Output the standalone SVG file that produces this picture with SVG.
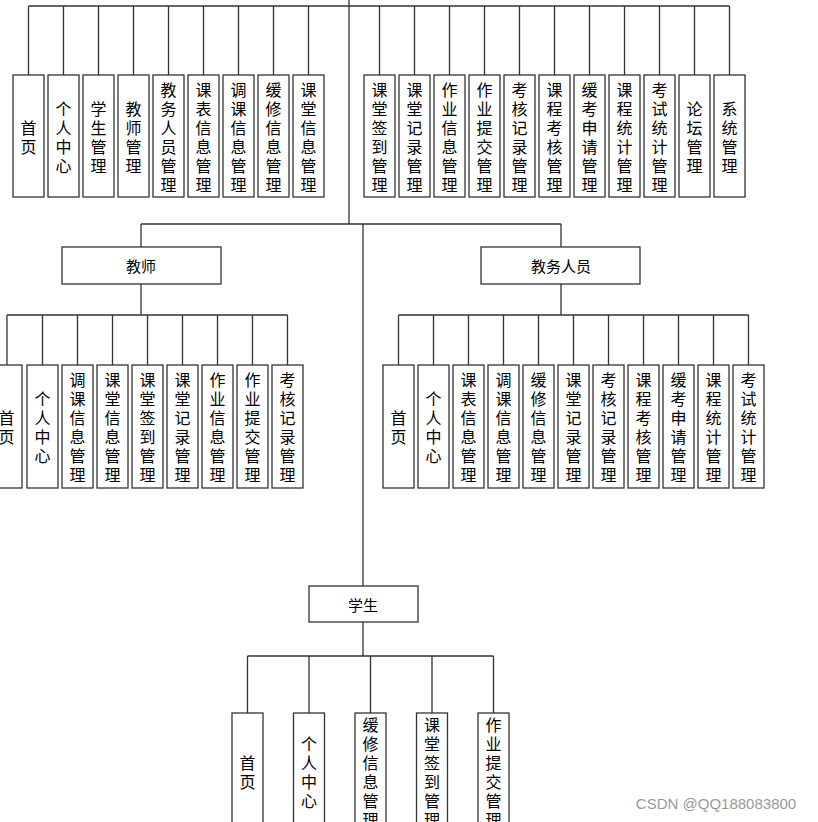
<svg xmlns="http://www.w3.org/2000/svg" width="818" height="822" viewBox="0 0 818 822">
<style>
.b{fill:#fff;stroke:#333;stroke-width:1.3}
.l{fill:none;stroke:#333;stroke-width:1.3}
text{font-family:"Noto Sans CJK SC","Liberation Sans",sans-serif;font-size:16px;fill:#000;text-anchor:middle;dominant-baseline:central}
.r{font-size:15px}
</style>
<rect width="818" height="822" fill="#fff"/>
<g id="connectors">
<path class="l" d="M349 0V224M28.5 6H729.5M28.5 6V75M63.5 6V75M98.5 6V75M133.5 6V75M168.5 6V75M203.5 6V75M238.5 6V75M273.5 6V75M308.5 6V75M379.5 6V75M414.5 6V75M449.5 6V75M484.5 6V75M519.5 6V75M554.5 6V75M589.5 6V75M624.5 6V75M659.5 6V75M694.5 6V75M729.5 6V75"/>
<path class="l" d="M141 224H561M141 224V247M561 224V247M363 224V586"/>
<path class="l" d="M141 284V315M7 315H287.5M7 315V365M42.5 315V365M77.5 315V365M112.5 315V365M147.5 315V365M182.5 315V365M217.5 315V365M252.5 315V365M287.5 315V365"/>
<path class="l" d="M561 284V315M398.5 315H748.5M398.5 315V365M433.5 315V365M468.5 315V365M503.5 315V365M538.5 315V365M573.5 315V365M608.5 315V365M643.5 315V365M678.5 315V365M713.5 315V365M748.5 315V365"/>
<path class="l" d="M363 622V656M247.5 656H493.5M247.5 656V713M309 656V713M370.5 656V713M432 656V713M493.5 656V713"/>
</g>
<g id="roles">
<g id="teacher"><rect class="b" x="62" y="247" width="159" height="37"/><text class="r" x="141" y="265.5">教师</text></g>
<g id="staff"><rect class="b" x="481" y="247" width="159" height="37"/><text class="r" x="561" y="265.5">教务人员</text></g>
<g id="student"><rect class="b" x="309" y="586" width="109" height="36"/><text class="r" x="363" y="604">学生</text></g>
</g>
<g id="top">
<g id="t1"><rect class="b" x="13" y="75" width="31" height="122"/><text x="28.5" y="126.5"><tspan x="28.5">首</tspan><tspan x="28.5" dy="19">页</tspan></text></g>
<g id="t2"><rect class="b" x="48" y="75" width="31" height="122"/><text x="63.5" y="107.5"><tspan x="63.5">个</tspan><tspan x="63.5" dy="19">人</tspan><tspan x="63.5" dy="19">中</tspan><tspan x="63.5" dy="19">心</tspan></text></g>
<g id="t3"><rect class="b" x="83" y="75" width="31" height="122"/><text x="98.5" y="107.5"><tspan x="98.5">学</tspan><tspan x="98.5" dy="19">生</tspan><tspan x="98.5" dy="19">管</tspan><tspan x="98.5" dy="19">理</tspan></text></g>
<g id="t4"><rect class="b" x="118" y="75" width="31" height="122"/><text x="133.5" y="107.5"><tspan x="133.5">教</tspan><tspan x="133.5" dy="19">师</tspan><tspan x="133.5" dy="19">管</tspan><tspan x="133.5" dy="19">理</tspan></text></g>
<g id="t5"><rect class="b" x="153" y="75" width="31" height="122"/><text x="168.5" y="88.5"><tspan x="168.5">教</tspan><tspan x="168.5" dy="19">务</tspan><tspan x="168.5" dy="19">人</tspan><tspan x="168.5" dy="19">员</tspan><tspan x="168.5" dy="19">管</tspan><tspan x="168.5" dy="19">理</tspan></text></g>
<g id="t6"><rect class="b" x="188" y="75" width="31" height="122"/><text x="203.5" y="88.5"><tspan x="203.5">课</tspan><tspan x="203.5" dy="19">表</tspan><tspan x="203.5" dy="19">信</tspan><tspan x="203.5" dy="19">息</tspan><tspan x="203.5" dy="19">管</tspan><tspan x="203.5" dy="19">理</tspan></text></g>
<g id="t7"><rect class="b" x="223" y="75" width="31" height="122"/><text x="238.5" y="88.5"><tspan x="238.5">调</tspan><tspan x="238.5" dy="19">课</tspan><tspan x="238.5" dy="19">信</tspan><tspan x="238.5" dy="19">息</tspan><tspan x="238.5" dy="19">管</tspan><tspan x="238.5" dy="19">理</tspan></text></g>
<g id="t8"><rect class="b" x="258" y="75" width="31" height="122"/><text x="273.5" y="88.5"><tspan x="273.5">缓</tspan><tspan x="273.5" dy="19">修</tspan><tspan x="273.5" dy="19">信</tspan><tspan x="273.5" dy="19">息</tspan><tspan x="273.5" dy="19">管</tspan><tspan x="273.5" dy="19">理</tspan></text></g>
<g id="t9"><rect class="b" x="293" y="75" width="31" height="122"/><text x="308.5" y="88.5"><tspan x="308.5">课</tspan><tspan x="308.5" dy="19">堂</tspan><tspan x="308.5" dy="19">信</tspan><tspan x="308.5" dy="19">息</tspan><tspan x="308.5" dy="19">管</tspan><tspan x="308.5" dy="19">理</tspan></text></g>
<g id="t10"><rect class="b" x="364" y="75" width="31" height="122"/><text x="379.5" y="88.5"><tspan x="379.5">课</tspan><tspan x="379.5" dy="19">堂</tspan><tspan x="379.5" dy="19">签</tspan><tspan x="379.5" dy="19">到</tspan><tspan x="379.5" dy="19">管</tspan><tspan x="379.5" dy="19">理</tspan></text></g>
<g id="t11"><rect class="b" x="399" y="75" width="31" height="122"/><text x="414.5" y="88.5"><tspan x="414.5">课</tspan><tspan x="414.5" dy="19">堂</tspan><tspan x="414.5" dy="19">记</tspan><tspan x="414.5" dy="19">录</tspan><tspan x="414.5" dy="19">管</tspan><tspan x="414.5" dy="19">理</tspan></text></g>
<g id="t12"><rect class="b" x="434" y="75" width="31" height="122"/><text x="449.5" y="88.5"><tspan x="449.5">作</tspan><tspan x="449.5" dy="19">业</tspan><tspan x="449.5" dy="19">信</tspan><tspan x="449.5" dy="19">息</tspan><tspan x="449.5" dy="19">管</tspan><tspan x="449.5" dy="19">理</tspan></text></g>
<g id="t13"><rect class="b" x="469" y="75" width="31" height="122"/><text x="484.5" y="88.5"><tspan x="484.5">作</tspan><tspan x="484.5" dy="19">业</tspan><tspan x="484.5" dy="19">提</tspan><tspan x="484.5" dy="19">交</tspan><tspan x="484.5" dy="19">管</tspan><tspan x="484.5" dy="19">理</tspan></text></g>
<g id="t14"><rect class="b" x="504" y="75" width="31" height="122"/><text x="519.5" y="88.5"><tspan x="519.5">考</tspan><tspan x="519.5" dy="19">核</tspan><tspan x="519.5" dy="19">记</tspan><tspan x="519.5" dy="19">录</tspan><tspan x="519.5" dy="19">管</tspan><tspan x="519.5" dy="19">理</tspan></text></g>
<g id="t15"><rect class="b" x="539" y="75" width="31" height="122"/><text x="554.5" y="88.5"><tspan x="554.5">课</tspan><tspan x="554.5" dy="19">程</tspan><tspan x="554.5" dy="19">考</tspan><tspan x="554.5" dy="19">核</tspan><tspan x="554.5" dy="19">管</tspan><tspan x="554.5" dy="19">理</tspan></text></g>
<g id="t16"><rect class="b" x="574" y="75" width="31" height="122"/><text x="589.5" y="88.5"><tspan x="589.5">缓</tspan><tspan x="589.5" dy="19">考</tspan><tspan x="589.5" dy="19">申</tspan><tspan x="589.5" dy="19">请</tspan><tspan x="589.5" dy="19">管</tspan><tspan x="589.5" dy="19">理</tspan></text></g>
<g id="t17"><rect class="b" x="609" y="75" width="31" height="122"/><text x="624.5" y="88.5"><tspan x="624.5">课</tspan><tspan x="624.5" dy="19">程</tspan><tspan x="624.5" dy="19">统</tspan><tspan x="624.5" dy="19">计</tspan><tspan x="624.5" dy="19">管</tspan><tspan x="624.5" dy="19">理</tspan></text></g>
<g id="t18"><rect class="b" x="644" y="75" width="31" height="122"/><text x="659.5" y="88.5"><tspan x="659.5">考</tspan><tspan x="659.5" dy="19">试</tspan><tspan x="659.5" dy="19">统</tspan><tspan x="659.5" dy="19">计</tspan><tspan x="659.5" dy="19">管</tspan><tspan x="659.5" dy="19">理</tspan></text></g>
<g id="t19"><rect class="b" x="679" y="75" width="31" height="122"/><text x="694.5" y="107.5"><tspan x="694.5">论</tspan><tspan x="694.5" dy="19">坛</tspan><tspan x="694.5" dy="19">管</tspan><tspan x="694.5" dy="19">理</tspan></text></g>
<g id="t20"><rect class="b" x="714" y="75" width="31" height="122"/><text x="729.5" y="107.5"><tspan x="729.5">系</tspan><tspan x="729.5" dy="19">统</tspan><tspan x="729.5" dy="19">管</tspan><tspan x="729.5" dy="19">理</tspan></text></g>
</g>
<g id="teacherItems">
<g id="a1"><rect class="b" x="-9" y="365" width="31" height="123"/><text x="6.5" y="417"><tspan x="6.5">首</tspan><tspan x="6.5" dy="19">页</tspan></text></g>
<g id="a2"><rect class="b" x="27" y="365" width="31" height="123"/><text x="42.5" y="398"><tspan x="42.5">个</tspan><tspan x="42.5" dy="19">人</tspan><tspan x="42.5" dy="19">中</tspan><tspan x="42.5" dy="19">心</tspan></text></g>
<g id="a3"><rect class="b" x="62" y="365" width="31" height="123"/><text x="77.5" y="379"><tspan x="77.5">调</tspan><tspan x="77.5" dy="19">课</tspan><tspan x="77.5" dy="19">信</tspan><tspan x="77.5" dy="19">息</tspan><tspan x="77.5" dy="19">管</tspan><tspan x="77.5" dy="19">理</tspan></text></g>
<g id="a4"><rect class="b" x="97" y="365" width="31" height="123"/><text x="112.5" y="379"><tspan x="112.5">课</tspan><tspan x="112.5" dy="19">堂</tspan><tspan x="112.5" dy="19">信</tspan><tspan x="112.5" dy="19">息</tspan><tspan x="112.5" dy="19">管</tspan><tspan x="112.5" dy="19">理</tspan></text></g>
<g id="a5"><rect class="b" x="132" y="365" width="31" height="123"/><text x="147.5" y="379"><tspan x="147.5">课</tspan><tspan x="147.5" dy="19">堂</tspan><tspan x="147.5" dy="19">签</tspan><tspan x="147.5" dy="19">到</tspan><tspan x="147.5" dy="19">管</tspan><tspan x="147.5" dy="19">理</tspan></text></g>
<g id="a6"><rect class="b" x="167" y="365" width="31" height="123"/><text x="182.5" y="379"><tspan x="182.5">课</tspan><tspan x="182.5" dy="19">堂</tspan><tspan x="182.5" dy="19">记</tspan><tspan x="182.5" dy="19">录</tspan><tspan x="182.5" dy="19">管</tspan><tspan x="182.5" dy="19">理</tspan></text></g>
<g id="a7"><rect class="b" x="202" y="365" width="31" height="123"/><text x="217.5" y="379"><tspan x="217.5">作</tspan><tspan x="217.5" dy="19">业</tspan><tspan x="217.5" dy="19">信</tspan><tspan x="217.5" dy="19">息</tspan><tspan x="217.5" dy="19">管</tspan><tspan x="217.5" dy="19">理</tspan></text></g>
<g id="a8"><rect class="b" x="237" y="365" width="31" height="123"/><text x="252.5" y="379"><tspan x="252.5">作</tspan><tspan x="252.5" dy="19">业</tspan><tspan x="252.5" dy="19">提</tspan><tspan x="252.5" dy="19">交</tspan><tspan x="252.5" dy="19">管</tspan><tspan x="252.5" dy="19">理</tspan></text></g>
<g id="a9"><rect class="b" x="272" y="365" width="31" height="123"/><text x="287.5" y="379"><tspan x="287.5">考</tspan><tspan x="287.5" dy="19">核</tspan><tspan x="287.5" dy="19">记</tspan><tspan x="287.5" dy="19">录</tspan><tspan x="287.5" dy="19">管</tspan><tspan x="287.5" dy="19">理</tspan></text></g>
</g>
<g id="staffItems">
<g id="s1"><rect class="b" x="383" y="365" width="31" height="123"/><text x="398.5" y="417"><tspan x="398.5">首</tspan><tspan x="398.5" dy="19">页</tspan></text></g>
<g id="s2"><rect class="b" x="418" y="365" width="31" height="123"/><text x="433.5" y="398"><tspan x="433.5">个</tspan><tspan x="433.5" dy="19">人</tspan><tspan x="433.5" dy="19">中</tspan><tspan x="433.5" dy="19">心</tspan></text></g>
<g id="s3"><rect class="b" x="453" y="365" width="31" height="123"/><text x="468.5" y="379"><tspan x="468.5">课</tspan><tspan x="468.5" dy="19">表</tspan><tspan x="468.5" dy="19">信</tspan><tspan x="468.5" dy="19">息</tspan><tspan x="468.5" dy="19">管</tspan><tspan x="468.5" dy="19">理</tspan></text></g>
<g id="s4"><rect class="b" x="488" y="365" width="31" height="123"/><text x="503.5" y="379"><tspan x="503.5">调</tspan><tspan x="503.5" dy="19">课</tspan><tspan x="503.5" dy="19">信</tspan><tspan x="503.5" dy="19">息</tspan><tspan x="503.5" dy="19">管</tspan><tspan x="503.5" dy="19">理</tspan></text></g>
<g id="s5"><rect class="b" x="523" y="365" width="31" height="123"/><text x="538.5" y="379"><tspan x="538.5">缓</tspan><tspan x="538.5" dy="19">修</tspan><tspan x="538.5" dy="19">信</tspan><tspan x="538.5" dy="19">息</tspan><tspan x="538.5" dy="19">管</tspan><tspan x="538.5" dy="19">理</tspan></text></g>
<g id="s6"><rect class="b" x="558" y="365" width="31" height="123"/><text x="573.5" y="379"><tspan x="573.5">课</tspan><tspan x="573.5" dy="19">堂</tspan><tspan x="573.5" dy="19">记</tspan><tspan x="573.5" dy="19">录</tspan><tspan x="573.5" dy="19">管</tspan><tspan x="573.5" dy="19">理</tspan></text></g>
<g id="s7"><rect class="b" x="593" y="365" width="31" height="123"/><text x="608.5" y="379"><tspan x="608.5">考</tspan><tspan x="608.5" dy="19">核</tspan><tspan x="608.5" dy="19">记</tspan><tspan x="608.5" dy="19">录</tspan><tspan x="608.5" dy="19">管</tspan><tspan x="608.5" dy="19">理</tspan></text></g>
<g id="s8"><rect class="b" x="628" y="365" width="31" height="123"/><text x="643.5" y="379"><tspan x="643.5">课</tspan><tspan x="643.5" dy="19">程</tspan><tspan x="643.5" dy="19">考</tspan><tspan x="643.5" dy="19">核</tspan><tspan x="643.5" dy="19">管</tspan><tspan x="643.5" dy="19">理</tspan></text></g>
<g id="s9"><rect class="b" x="663" y="365" width="31" height="123"/><text x="678.5" y="379"><tspan x="678.5">缓</tspan><tspan x="678.5" dy="19">考</tspan><tspan x="678.5" dy="19">申</tspan><tspan x="678.5" dy="19">请</tspan><tspan x="678.5" dy="19">管</tspan><tspan x="678.5" dy="19">理</tspan></text></g>
<g id="s10"><rect class="b" x="698" y="365" width="31" height="123"/><text x="713.5" y="379"><tspan x="713.5">课</tspan><tspan x="713.5" dy="19">程</tspan><tspan x="713.5" dy="19">统</tspan><tspan x="713.5" dy="19">计</tspan><tspan x="713.5" dy="19">管</tspan><tspan x="713.5" dy="19">理</tspan></text></g>
<g id="s11"><rect class="b" x="733" y="365" width="31" height="123"/><text x="748.5" y="379"><tspan x="748.5">考</tspan><tspan x="748.5" dy="19">试</tspan><tspan x="748.5" dy="19">统</tspan><tspan x="748.5" dy="19">计</tspan><tspan x="748.5" dy="19">管</tspan><tspan x="748.5" dy="19">理</tspan></text></g>
</g>
<g id="studentItems">
<g id="u1"><rect class="b" x="232" y="713" width="31" height="125"/><text x="247.5" y="762"><tspan x="247.5">首</tspan><tspan x="247.5" dy="19">页</tspan></text></g>
<g id="u2"><rect class="b" x="293.5" y="713" width="31" height="125"/><text x="309" y="743"><tspan x="309">个</tspan><tspan x="309" dy="19">人</tspan><tspan x="309" dy="19">中</tspan><tspan x="309" dy="19">心</tspan></text></g>
<g id="u3"><rect class="b" x="355" y="713" width="31" height="125"/><text x="370.5" y="724"><tspan x="370.5">缓</tspan><tspan x="370.5" dy="19">修</tspan><tspan x="370.5" dy="19">信</tspan><tspan x="370.5" dy="19">息</tspan><tspan x="370.5" dy="19">管</tspan><tspan x="370.5" dy="19">理</tspan></text></g>
<g id="u4"><rect class="b" x="416.5" y="713" width="31" height="125"/><text x="432" y="724"><tspan x="432">课</tspan><tspan x="432" dy="19">堂</tspan><tspan x="432" dy="19">签</tspan><tspan x="432" dy="19">到</tspan><tspan x="432" dy="19">管</tspan><tspan x="432" dy="19">理</tspan></text></g>
<g id="u5"><rect class="b" x="478" y="713" width="31" height="125"/><text x="493.5" y="724"><tspan x="493.5">作</tspan><tspan x="493.5" dy="19">业</tspan><tspan x="493.5" dy="19">提</tspan><tspan x="493.5" dy="19">交</tspan><tspan x="493.5" dy="19">管</tspan><tspan x="493.5" dy="19">理</tspan></text></g>
</g>
<text x="716" y="803" style="font-family:'Liberation Sans',sans-serif;font-size:15px;fill:#999">CSDN @QQ188083800</text>
</svg>
